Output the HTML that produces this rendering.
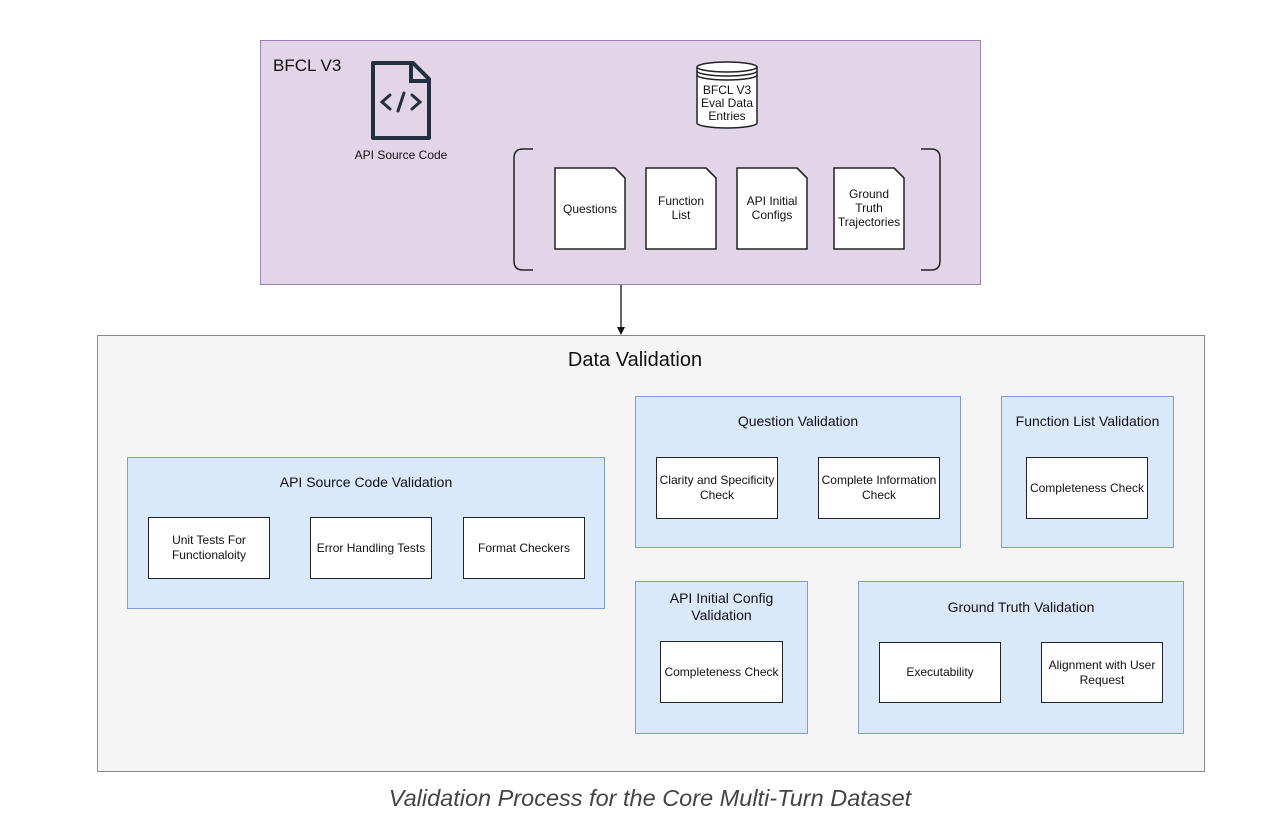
<!DOCTYPE html>
<html><head><meta charset="utf-8"><style>
body{margin:0;width:1280px;height:820px;background:#fff;position:relative;font-family:"Liberation Sans",Arial,sans-serif;color:#111;overflow:hidden}
.a{position:absolute;box-sizing:border-box}
.blue{background:#dae8fc;border:1px solid #7e9ed0}
.w{background:#fff;border:1.5px solid #222;display:flex;align-items:center;justify-content:center;text-align:center;font-size:12px;line-height:15px}
.t{position:absolute;text-align:center;font-size:14px;line-height:17px}
</style></head><body>
<div class="a" style="left:260px;top:40px;width:721px;height:245px;background:#e1d5e7;border:1px solid #9f80b3"></div>
<div class="t" style="left:273px;top:57px;font-size:17px;text-align:left">BFCL V3</div>
<svg class="a" style="left:0;top:0" width="1280" height="820">
<path d="M373,63 H413 L429,79 V138 H373 Z" fill="none" stroke="#232f3e" stroke-width="4" stroke-linejoin="round"/>
<path d="M411,63 V81 H429" fill="none" stroke="#232f3e" stroke-width="4"/>
<path d="M390,95 L382,102 L390,109 M412,95 L420,102 L412,109 M404,93 L398,111" fill="none" stroke="#232f3e" stroke-width="3" stroke-linecap="round"/>
<path d="M697,67 V123 A30,5 0 0 0 757,123 V67" fill="#fff" stroke="#222" stroke-width="1.5"/>
<ellipse cx="727" cy="67" rx="30" ry="5" fill="#fff" stroke="#222" stroke-width="1.5"/>
<path d="M697,71 A30,5 0 0 0 757,71 M697,75 A30,5 0 0 0 757,75" fill="none" stroke="#222" stroke-width="1.5"/>
<path d="M533,149 H523 Q514,149 514,158 V261 Q514,270 523,270 H533" fill="none" stroke="#222" stroke-width="1.5"/>
<path d="M921,149 H931 Q940,149 940,158 V261 Q940,270 931,270 H921" fill="none" stroke="#222" stroke-width="1.5"/>
<g fill="#fff" stroke="#222" stroke-width="1.5">
<path d="M555,168 H615 L625,178 V249 H555 Z"/><path d="M615,168 L625,178"/>
<path d="M646,168 H706 L716,178 V249 H646 Z"/><path d="M706,168 L716,178"/>
<path d="M737,168 H797 L807,178 V249 H737 Z"/><path d="M797,168 L807,178"/>
<path d="M834,168 H894 L904,178 V249 H834 Z"/><path d="M894,168 L904,178"/>
</g>
<line x1="621" y1="285" x2="621" y2="329" stroke="#111" stroke-width="1.3"/>
<path d="M617,327 L621,335 L625,327 Z" fill="#111"/>
</svg>
<div class="t" style="left:697px;top:84px;width:60px;font-size:12px;line-height:13px">BFCL V3<br>Eval Data<br>Entries</div>
<div class="t" style="left:341px;top:147px;width:120px;font-size:12px">API Source Code</div>
<div class="t" style="left:555px;top:201px;width:70px;font-size:12px">Questions</div>
<div class="t" style="left:646px;top:194px;width:70px;font-size:12px;line-height:14px">Function<br>List</div>
<div class="t" style="left:737px;top:194px;width:70px;font-size:12px;line-height:14px">API Initial<br>Configs</div>
<div class="t" style="left:834px;top:187px;width:70px;font-size:12px;line-height:14px">Ground<br>Truth<br>Trajectories</div>

<div class="a" style="left:97px;top:335px;width:1108px;height:437px;background:#f5f5f5;border:1px solid #888"></div>
<div class="t" style="left:535px;top:348px;width:200px;font-size:20px;line-height:24px">Data Validation</div>

<div class="a blue" style="left:127px;top:457px;width:478px;height:152px"></div>
<div class="t" style="left:127px;top:474px;width:478px">API Source Code Validation</div>
<div class="a w" style="left:148px;top:517px;width:122px;height:62px">Unit Tests For<br>Functionaloity</div>
<div class="a w" style="left:310px;top:517px;width:122px;height:62px">Error Handling Tests</div>
<div class="a w" style="left:463px;top:517px;width:122px;height:62px">Format Checkers</div>

<div class="a blue" style="left:635px;top:396px;width:326px;height:152px"></div>
<div class="t" style="left:635px;top:413px;width:326px">Question Validation</div>
<div class="a w" style="left:656px;top:457px;width:122px;height:62px">Clarity and Specificity<br>Check</div>
<div class="a w" style="left:818px;top:457px;width:122px;height:62px">Complete Information<br>Check</div>

<div class="a blue" style="left:1001px;top:396px;width:173px;height:152px"></div>
<div class="t" style="left:1001px;top:413px;width:173px">Function List Validation</div>
<div class="a w" style="left:1026px;top:457px;width:122px;height:62px">Completeness Check</div>

<div class="a blue" style="left:635px;top:581px;width:173px;height:153px"></div>
<div class="t" style="left:635px;top:590px;width:173px">API Initial Config<br>Validation</div>
<div class="a w" style="left:660px;top:641px;width:123px;height:62px">Completeness Check</div>

<div class="a blue" style="left:858px;top:581px;width:326px;height:153px"></div>
<div class="t" style="left:858px;top:599px;width:326px">Ground Truth Validation</div>
<div class="a w" style="left:879px;top:642px;width:122px;height:61px">Executability</div>
<div class="a w" style="left:1041px;top:642px;width:122px;height:61px">Alignment with User<br>Request</div>

<div class="t" style="left:250px;top:785px;width:800px;font-size:23.5px;line-height:26px;font-style:italic;color:#444">Validation Process for the Core Multi-Turn Dataset</div>
</body></html>
